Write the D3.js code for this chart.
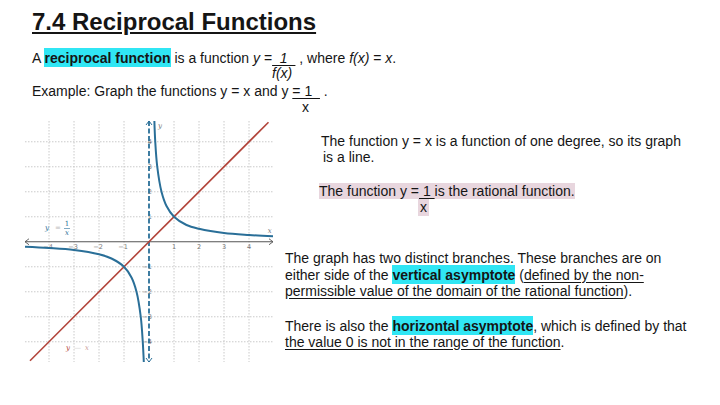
<!DOCTYPE html>
<html>
<head>
<meta charset="utf-8">
<script src="https://cdn.jsdelivr.net/npm/d3@7"></script>
<style>
  html, body { margin: 0; padding: 0; background: #fff; }
  #wrap { position: relative; width: 720px; height: 405px; overflow: hidden; background: #fff; }
  svg { position: absolute; left: 0; top: 0; }
  .ln { position: absolute; white-space: nowrap; font-family: "Liberation Sans", Arial, sans-serif;
        font-size: 14px; line-height: 13px; color: #151515; }
  .title { font-size: 24px; line-height: 28px; font-weight: bold; text-decoration: underline; text-decoration-thickness: 2px; text-underline-offset: 2px; }
  .hl { background: #30e6f4; font-weight: bold; padding: 2px 0 1px 0; }
  .pk { background: #e8d6de; }
  .pkx { background: #e8d6de; padding: 0 2px 1px 2px; }
  .u { text-decoration: underline; text-underline-offset: 2px; }
  i { font-style: italic; }
</style>
</head>
<body>
<div id="wrap"></div>
<script>
// ---------- data ----------
const xTicks = [-4, -3, -2, -1, 1, 2, 3, 4];
const yTicks = [-4, -3, -2, -1, 1, 2, 3, 4];
const xTickLabels = ["\u22124", "\u22123", "\u22122", "\u22121", "1", "2", "3", "4"];
const yTickLabels = ["\u22124", "\u22123", "\u22122", "\u22121", "1", "2", "3", "4"];
const xDomain = [-4.96, 4.96];
const yDomain = [-4.81, 4.83];
// y = x (end points of the red line)
const lineX = [-4.76, 4.78];
const lineY = [-4.76, 4.78];
// y = 1/x, right branch
const recipRightX = [0.215, 0.25, 0.33, 0.5, 0.7, 1, 1.5, 2, 3, 4, 4.96];
const recipRightY = [4.83, 4.0, 3.0, 2.0, 1.43, 1.0, 0.67, 0.52, 0.35, 0.27, 0.22];
// y = 1/x, left branch
const recipLeftX = [-4.96, -4, -3, -2, -1.5, -1, -0.7, -0.5, -0.33, -0.25, -0.208];
const recipLeftY = [-0.2, -0.25, -0.33, -0.5, -0.67, -1.0, -1.43, -2.0, -3.0, -4.0, -4.81];

// ---------- chart ----------
const W = 720, H = 405;
const wrap = d3.select("#wrap");
const svg = wrap.append("svg").attr("width", W).attr("height", H);

const x = d3.scaleLinear().domain(xDomain).range([25, 273]);
const y = d3.scaleLinear().domain(yDomain).range([362, 121]);

const red = "#b2443a", blue = "#2a6f98", axisCol = "#555", gridCol = "#c4c4c4";

// grid
const g = svg.append("g");
g.selectAll("line.vg").data(xTicks).join("line")
  .attr("x1", d => x(d)).attr("x2", d => x(d))
  .attr("y1", y(yDomain[1])).attr("y2", y(yDomain[0]))
  .attr("stroke", gridCol).attr("stroke-width", 0.9).attr("stroke-dasharray", "1.5,1.5");
g.selectAll("line.hg").data(yTicks).join("line")
  .attr("y1", d => y(d)).attr("y2", d => y(d))
  .attr("x1", x(xDomain[0])).attr("x2", x(xDomain[1]))
  .attr("stroke", gridCol).attr("stroke-width", 0.9).attr("stroke-dasharray", "1.5,1.5");

// x axis
const xa = svg.append("g").attr("transform", `translate(0,${y(0)})`);
xa.append("line").attr("x1", x(xDomain[0])).attr("x2", x(xDomain[1]))
  .attr("stroke", axisCol).attr("stroke-width", 1);
xa.append("path").attr("d", `M${x(xDomain[0]) + 4},-3 L${x(xDomain[0])},0 L${x(xDomain[0]) + 4},3`)
  .attr("fill", "none").attr("stroke", axisCol).attr("stroke-width", 0.9);
xa.append("path").attr("d", `M${x(xDomain[1]) - 4},-3 L${x(xDomain[1])},0 L${x(xDomain[1]) - 4},3`)
  .attr("fill", "none").attr("stroke", axisCol).attr("stroke-width", 0.9);
xa.selectAll("text").data(xTicks).join("text")
  .attr("x", d => x(d) + (d < 0 ? -1 : 0)).attr("y", 7)
  .attr("text-anchor", "middle")
  .attr("font-family", "DejaVu Sans, sans-serif").attr("font-size", 6.5).attr("fill", "#777")
  .text((d, i) => xTickLabels[i]);
xa.append("text").attr("x", x(4.75)).attr("y", -9).attr("font-family", "DejaVu Serif, serif")
  .attr("font-style", "italic").attr("font-size", 7).attr("fill", "#777").text("x");

// y labels
svg.selectAll("text.yl").data(yTicks).join("text").attr("class", "yl")
  .attr("x", x(0) + 3).attr("y", d => y(d) + 2.5)
  .attr("text-anchor", "end")
  .attr("font-family", "DejaVu Sans, sans-serif").attr("font-size", 6.5).attr("fill", "#777")
  .text((d, i) => yTickLabels[i]);
svg.append("text").attr("x", x(0) + 9).attr("y", y(4.55)).attr("font-family", "DejaVu Serif, serif")
  .attr("font-style", "italic").attr("font-size", 7).attr("fill", "#777").text("y");

// vertical asymptote / y axis (dashed blue)
svg.append("line").attr("x1", x(0)).attr("x2", x(0))
  .attr("y1", y(yDomain[1])).attr("y2", y(yDomain[0]))
  .attr("stroke", blue).attr("stroke-width", 1.8).attr("stroke-dasharray", "5,2.5");
svg.append("path").attr("d", `M${x(0) - 3},${y(yDomain[1]) + 4} L${x(0)},${y(yDomain[1])} L${x(0) + 3},${y(yDomain[1]) + 4}`)
  .attr("fill", "none").attr("stroke", blue).attr("stroke-width", 1);
svg.append("path").attr("d", `M${x(0) - 3},${y(yDomain[0]) - 4} L${x(0)},${y(yDomain[0])} L${x(0) + 3},${y(yDomain[0]) - 4}`)
  .attr("fill", "none").attr("stroke", blue).attr("stroke-width", 1);

// y = x
const lineGen = d3.line().x(d => x(d[0])).y(d => y(d[1]));
svg.append("path").datum(d3.zip(lineX, lineY)).attr("d", lineGen)
  .attr("fill", "none").attr("stroke", red).attr("stroke-width", 1.6);

// y = 1/x
const curveGen = d3.line().x(d => x(d[0])).y(d => y(d[1])).curve(d3.curveCatmullRom.alpha(0.5));
[d3.zip(recipRightX, recipRightY), d3.zip(recipLeftX, recipLeftY)].forEach(pts => {
  svg.append("path").datum(pts).attr("d", curveGen)
    .attr("fill", "none").attr("stroke", blue).attr("stroke-width", 2);
});

// legend labels
const lg = svg.append("g").attr("font-family", "DejaVu Serif, serif").attr("font-size", 7);
lg.append("text").attr("x", 45).attr("y", 230).attr("fill", blue).attr("font-style", "italic").text("y");
lg.append("text").attr("x", 55).attr("y", 230).attr("fill", "#bbb").text("=");
lg.append("text").attr("x", 67).attr("y", 226).attr("fill", blue).attr("text-anchor", "middle").text("1");
lg.append("line").attr("x1", 64).attr("x2", 70).attr("y1", 228.5).attr("y2", 228.5).attr("stroke", blue).attr("stroke-width", 0.6);
lg.append("text").attr("x", 67).attr("y", 235).attr("fill", blue).attr("text-anchor", "middle").attr("font-style", "italic").text("x");
lg.append("text").attr("x", 66).attr("y", 350).attr("fill", red).attr("font-style", "italic").text("y");
lg.append("text").attr("x", 74).attr("y", 350).attr("fill", "#ccc").text("\u2014");
lg.append("text").attr("x", 85).attr("y", 350).attr("fill", "#c9a09a").attr("font-style", "italic").text("x");

// ---------- text ----------
// line-height 13px, 14px font: baseline sits 11.35px below the box top
function line(left, baseline, html, cls) {
  wrap.append("div").attr("class", "ln" + (cls ? " " + cls : ""))
    .style("left", left + "px").style("top", (baseline - 11.35) + "px").html(html);
}
wrap.append("div").attr("class", "ln title").style("left", "32px").style("top", "8px")
  .text("7.4 Reciprocal Functions");

line(32, 63, 'A <span class="hl">reciprocal function</span> is a function <i>y</i> =<span class="u"><i>&nbsp;&nbsp;1&nbsp;&nbsp;</i></span> , where <i>f(x)</i> = <i>x</i>.');
line(272, 78.5, '<i>f(x)</i>');
line(32, 96, 'Example: Graph the functions y = x and y <span class="u">= 1&nbsp;&nbsp;</span> .');
line(302, 112.5, 'x');

line(321, 146, 'The function y = x is a function of one degree, so its graph');
line(323, 162, 'is a line.');
line(319, 196, '<span class="pk">The function y =<span class="u">&nbsp;1&nbsp;</span>is the rational function.</span>');
line(418, 212, '<span class="pkx">x</span>');

line(285, 263, 'The graph has two distinct branches. These branches are on');
line(285, 280, 'either side of the <span class="hl">vertical asymptote</span> (<span class="u">defined by the non-</span>');
line(285, 296, '<span class="u">permissible value of the domain of the rational function</span>).');
line(285, 331, 'There is also the <span class="hl">horizontal asymptote</span>, which is defined by that');
line(285, 347, '<span class="u">the value 0 is not in the range of the function</span>.');
</script>
</body>
</html>
